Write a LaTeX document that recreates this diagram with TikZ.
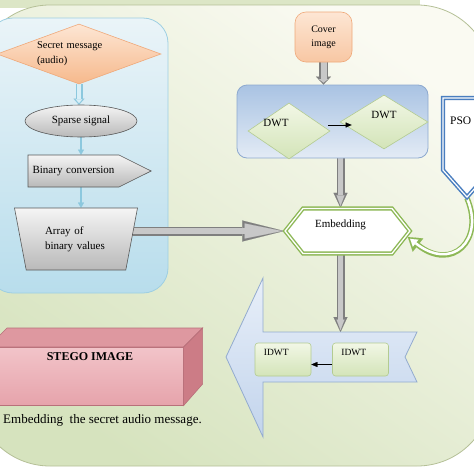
\documentclass[tikz,border=0pt]{standalone}
\usepackage{fontspec}
\setmainfont{Liberation Serif}
\usetikzlibrary{shapes.geometric,shapes.symbols,arrows.meta,calc}
\pgfdeclarelayer{bg}
\pgfdeclarelayer{conn}
\pgfsetlayers{bg,conn,main}
\definecolor{gbtop}{HTML}{FAFAF2}
\definecolor{gbbot}{HTML}{D6E3BE}
\definecolor{gbline}{HTML}{B5C097}
\definecolor{stripc}{HTML}{DCE6C6}
\definecolor{pantop}{HTML}{EAF4F8}
\definecolor{panbot}{HTML}{B8DDEC}
\definecolor{panline}{HTML}{9ECFE2}
\definecolor{ortop}{HTML}{FDE6D4}
\definecolor{orbot}{HTML}{F6B98C}
\definecolor{orline}{HTML}{EFA97A}
\definecolor{lblue}{HTML}{8CC8DE}
\definecolor{lbluein}{HTML}{D9EFF7}
\definecolor{dwttop}{HTML}{A9C3E3}
\definecolor{dwtbot}{HTML}{E3EBF5}
\definecolor{dwtline}{HTML}{8DA9CF}
\definecolor{gtop}{HTML}{F2F7E6}
\definecolor{gbot}{HTML}{D3E4B8}
\definecolor{gline}{HTML}{B3CB91}
\definecolor{embgreen}{HTML}{8DB856}
\definecolor{psoblue}{HTML}{4A7EBF}
\definecolor{arrtop}{HTML}{E8EFF9}
\definecolor{arrbot}{HTML}{C2D4EC}
\definecolor{arrline}{HTML}{93ABCF}
\definecolor{pinkhi}{HTML}{F2C4C9}
\definecolor{pinkmid}{HTML}{F9E2E4}
\definecolor{pinklo}{HTML}{E6A3AB}
\definecolor{pinktop}{HTML}{DE98A0}
\definecolor{pinkside}{HTML}{CC7C86}
\definecolor{pinkline}{HTML}{B8707A}
\definecolor{garrowout}{HTML}{7F7F7F}
\definecolor{garrowin}{HTML}{C8C8C8}
\newcommand\garrow[5]{%
  \pgfmathsetmacro\gin{#3-3}\pgfmathsetmacro\glin{#4-4.5}\pgfmathsetmacro\gwin{#5-6}%
  \draw[line width=#3pt, garrowout, -{Triangle[length=#4pt,width=#5pt,line width=0.1pt]}] #1 -- #2;
  \draw[line width=\gin pt, garrowin, shorten >=2pt, -{Triangle[length=\glin pt,width=\gwin pt,line width=0.1pt]}] #1 -- #2;}
\begin{document}
\begin{tikzpicture}[x=1pt,y=-1pt,
  every node/.style={font=\fontsize{11}{15}\selectfont, inner sep=0pt},
  grayshape/.style={draw=gray!70!black, line width=0.6pt, top color=gray!8, bottom color=gray!55},
  dwtd/.style={diamond, draw=gline, line width=0.6pt, top color=gtop, bottom color=gbot},
  idwtbox/.style={rectangle, rounded corners=3pt, draw=gline, line width=0.6pt, top color=gtop, bottom color=gbot, minimum width=56pt, minimum height=33pt},
  idlbl/.style={anchor=north west, xshift=9pt, yshift=-6pt, font=\fontsize{9.5}{11}\selectfont},
  lbarrow/.style={draw=lblue, line width=1.6pt, -{Triangle[length=5pt,width=6pt,line width=0.1pt]}},
  blk/.style={draw=black, line width=1pt, -{Triangle[length=6pt,width=5pt,line width=0.1pt]}}
]
\useasboundingbox (0,0) rectangle (474,474);
\begin{pgfonlayer}{bg}
  \fill[white] (0,0) rectangle (474,474);
  \fill[stripc] (0,0) rectangle (420,8);
  \draw[gbline, line width=0.8pt, top color=gbtop, bottom color=gbbot, shading angle=-35, rounded corners=75pt] (-25,5) rectangle (492,466);
  \draw[panline, line width=0.8pt, top color=pantop, bottom color=panbot, rounded corners=25pt] (-12,18) rectangle (168,293);
\end{pgfonlayer}

% left column
\node[diamond, aspect=2.7, draw=orline, line width=0.6pt, top color=ortop, bottom color=orbot, minimum width=164pt, minimum height=60pt, text width=84pt, align=left, font=\fontsize{10.5}{15}\selectfont] (secret) at (79,54) {Secret message\\(audio)};
\node[ellipse, grayshape, minimum width=112pt, minimum height=32pt] (sparse) at (81,121) {Sparse signal};
\node[signal, signal to=east, signal pointer angle=53, grayshape, text width=91pt, align=center, minimum height=32pt] (binary) at (73.5,171) {Binary conversion};
\node[trapezium, shape border rotate=180, trapezium left angle=65, trapezium right angle=65, trapezium stretches body, grayshape, minimum width=123pt, minimum height=62pt, text width=62pt, align=left] (array) at (76,239) {Array of\\binary values};

% right column
\node[rectangle, rounded corners=11pt, draw=orline, line width=0.6pt, top color=ortop, bottom color=orbot!80, minimum width=57pt, minimum height=50pt, align=center, font=\fontsize{10}{14}\selectfont] (cover) at (323.5,37) {Cover\\image};
\node[rectangle, rounded corners=10pt, draw=dwtline, line width=0.8pt, top color=dwttop, bottom color=dwtbot, minimum width=191pt, minimum height=73pt] (dwtp) at (332.5,121.5) {};
\node[dwtd, minimum width=82pt, minimum height=56pt, label={[xshift=-13pt,yshift=8pt]center:DWT}] (dwt1) at (289,131) {};
\node[dwtd, minimum width=88pt, minimum height=54pt, label={[yshift=7pt]center:DWT}] (dwt2) at (384,122) {};
\draw[blk] ([shift={(-2,-6)}]dwt1.east) -- ([shift={(12,3)}]dwt2.west);

\node[signal, signal to=east and west, signal from=nowhere, signal pointer angle=103, draw=embgreen, double=white, double distance=1.3pt, line width=1.4pt, fill=white, text width=89pt, minimum height=45pt, label={[xshift=-7pt,yshift=6pt]center:Embedding}] (emb) at (347.5,231) {};

\node[signal, signal to=south, signal pointer angle=83, draw=psoblue, double=white, double distance=1.2pt, line width=1.5pt, fill=white, minimum width=48pt, minimum height=72pt] (pso) at (467,134) {};
\node[anchor=west, font=\fontsize{11.5}{14}\selectfont] (psotxt) at (450,121) {PSO};

% big left arrow with IDWT blocks
\draw[draw=arrline, line width=0.8pt, top color=arrtop, bottom color=arrbot] (226,357) -- (263,278) -- (263,332) -- (417,332) -- (405,357) -- (417,382) -- (263,382) -- (263,437) -- cycle;
\coordinate (idwttop) at (340,332);
\node[idwtbox, label={[idlbl]north west:IDWT}] (idwt1) at (283,359.5) {};
\node[idwtbox, label={[idlbl]north west:IDWT}] (idwt2) at (360.5,359.5) {};
\draw[blk] ([yshift=-5pt]idwt2.west) -- ([yshift=-5pt]idwt1.east);

% stego image box
\node[rectangle, draw=pinkline, line width=0.6pt, top color=pinkhi, middle color=pinkmid, bottom color=pinklo, minimum width=195pt, minimum height=58pt, anchor=north west] (stego) at (-12,347) {};
\draw[pinkline, fill=pinktop, line width=0.6pt] (stego.north west) -- (stego.north east) -- ++(19,-19) -- ($(stego.north west)+(19,-19)$) -- cycle;
\draw[pinkline, fill=pinkside, line width=0.6pt] (stego.north east) -- ++(19,-19) -- ++(0,56) -- (stego.south east) -- cycle;
\node[font=\bfseries\fontsize{12}{14}\selectfont] (stegotxt) at (90,357) {STEGO IMAGE};
\node[anchor=west, font=\fontsize{13}{15}\selectfont] (cap) at (3,420) {Embedding\ \ the secret audio message.};

% connectors
\begin{pgfonlayer}{conn}
  \draw[line width=7pt, lblue, -{Triangle[length=6pt,width=11pt,line width=0.1pt]}] (secret.south) -- (secret.south |- sparse.north);
  \draw[line width=4.5pt, lbluein, shorten >=1.8pt, -{Triangle[length=3.5pt,width=6.5pt,line width=0.1pt]}] (secret.south) -- (secret.south |- sparse.north);
  \draw[lbarrow] (sparse.south) -- (sparse.south |- binary.north);
  \draw[lbarrow] (sparse.south |- binary.south) -- (sparse.south |- array.north);
  \garrow{(cover.south)}{(cover.south |- dwtp.north)}{9}{8}{15}
  \garrow{([xshift=-7pt]emb.north |- dwtp.south)}{([xshift=-7pt]emb.north)}{8}{15}{14}
  \garrow{([xshift=-7pt]emb.south)}{([xshift=-7pt]emb.south |- idwttop)}{8}{15}{14}
  \garrow{(array.east |- emb.west)}{(emb.west)}{9}{42}{21}
  \draw[line width=5.5pt, embgreen, -{Triangle[length=13pt,width=17pt,line width=0.1pt]}] (pso.south) .. controls (485,240) and (452,272) .. ([shift={(-3,6)}]emb.east);
  \draw[line width=2.5pt, white, shorten >=3pt, -{Triangle[length=7pt,width=9pt,line width=0.1pt]}] (pso.south) .. controls (485,240) and (452,272) .. ([shift={(-3,6)}]emb.east);
\end{pgfonlayer}
\end{tikzpicture}
\end{document}
